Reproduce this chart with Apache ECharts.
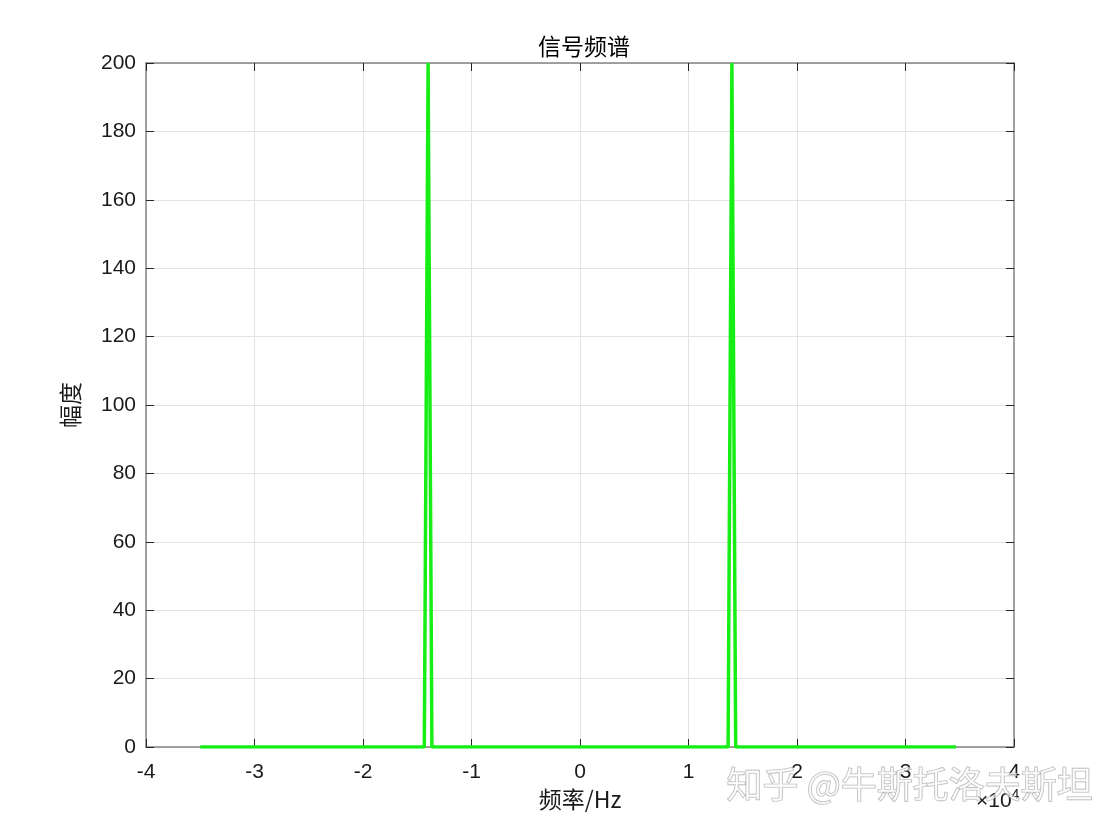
<!DOCTYPE html>
<html><head><meta charset="utf-8">
<script src="https://cdn.jsdelivr.net/npm/echarts@6/dist/echarts.min.js"></script>
<style>html,body{margin:0;padding:0;background:#fff}#c{width:1120px;height:840px}</style>
</head><body><div id="c"></div>
<script>
const freqHz = [-35000, -14350, -14000, -13650, 13650, 14000, 14350, 34650];
const amplitude = [0, 0, 200, 0, 0, 200, 0, 0];
const xTicks = [-4, -3, -2, -1, 0, 1, 2, 3, 4];
const yTicks = [0, 20, 40, 60, 80, 100, 120, 140, 160, 180, 200];
const titleText = '信号频谱';
const xName = '频率/Hz';
const yName = '幅度';

const chart = echarts.init(document.getElementById('c'));
const font = 'Helvetica, "Liberation Sans", Arial, "Noto Sans CJK SC", sans-serif';
const cjk = '"Noto Sans CJK SC", sans-serif';
const borderCol = '#858585';
const tickCol = '#262626';
const gridCol = '#e3e3e3';
const baseX = {
  type: 'value', min: -40000, max: 40000, interval: 10000,
  axisLine: {show: true, onZero: false, lineStyle: {color: borderCol, width: 1.5}},
  axisTick: {show: true, inside: true, length: 8, lineStyle: {color: tickCol}},
  splitLine: {show: false}
};
const baseY = {
  type: 'value', min: 0, max: 200, interval: 20,
  axisLine: {show: true, onZero: false, lineStyle: {color: borderCol, width: 1.5}},
  axisTick: {show: true, inside: true, length: 8, lineStyle: {color: tickCol}},
  splitLine: {show: false}
};
chart.setOption({
  animation: false,
  backgroundColor: '#fff',
  textStyle: {fontFamily: font},
  title: {text: titleText, left: 579, top: 30, textAlign: 'center',
    textStyle: {fontSize: 23, fontWeight: 'normal', color: '#000', fontFamily: cjk}},
  grid: {left: 146, top: 63, width: 868, height: 684},
  xAxis: [
    Object.assign({}, baseX, {
      position: 'bottom',
      name: xName, nameLocation: 'middle', nameGap: 40,
      nameTextStyle: {fontSize: 23, color: '#1a1a1a', fontFamily: cjk},
      axisLabel: {fontSize: 21, color: '#1a1a1a', margin: 15,
        formatter: v => { const t = v / 10000; return xTicks.indexOf(t) >= 0 ? String(t) : ''; }},
      splitLine: {show: true, lineStyle: {color: gridCol, width: 1}}
    }),
    Object.assign({}, baseX, {position: 'top', axisLabel: {show: false}})
  ],
  yAxis: [
    Object.assign({}, baseY, {
      position: 'left',
      name: yName, nameLocation: 'middle', nameGap: 64, nameRotate: 90,
      nameTextStyle: {fontSize: 23, color: '#1a1a1a', fontFamily: cjk},
      axisLabel: {fontSize: 21, color: '#1a1a1a', margin: 10,
        formatter: v => yTicks.indexOf(v) >= 0 ? String(v) : ''},
      splitLine: {show: true, lineStyle: {color: gridCol, width: 1}}
    }),
    Object.assign({}, baseY, {position: 'right', axisLabel: {show: false}})
  ],
  series: [{
    type: 'line', xAxisIndex: 0, yAxisIndex: 0,
    data: freqHz.map((f, i) => [f, amplitude[i]]),
    showSymbol: false, symbol: 'none', clip: true,
    lineStyle: {color: '#16ee16', width: 3.5}
  }],
  graphic: [
    {type: 'text', left: 976, top: 788, z: 5,
      style: {text: '{a|×10}{b|4}', rich: {a: {fontSize: 21, fill: '#1a1a1a', fontFamily: font}, b: {fontSize: 14, fill: '#1a1a1a', verticalAlign: 'top', padding: [0, 0, 12, 0]}}}},
    {type: 'text', left: 726, top: 766, z: 20,
      style: {text: '知乎 @牛斯托洛夫斯坦', fontSize: 36, fill: 'rgba(255,255,255,0.65)', stroke: 'rgba(130,130,130,0.6)', lineWidth: 1.2,
        fontFamily: cjk, shadowColor: 'rgba(0,0,0,0.25)', shadowBlur: 3, shadowOffsetX: 2, shadowOffsetY: 2}}
  ]
});
</script></body></html>
